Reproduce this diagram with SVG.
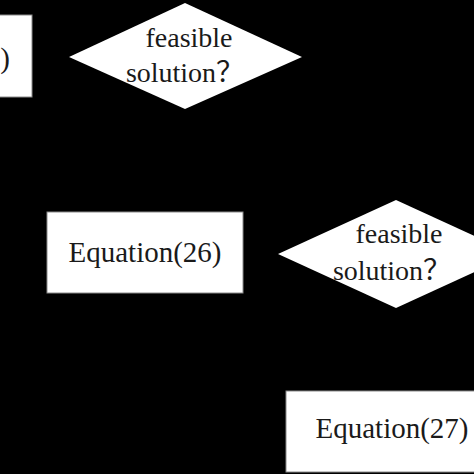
<svg xmlns="http://www.w3.org/2000/svg" width="474" height="474" viewBox="0 0 474 474">
<style>
.box{fill:#fff;stroke:#8a8a8a;stroke-width:1}
.dia{fill:#fff;stroke:none}
.t{font-family:"Liberation Serif","Times New Roman","Noto Sans CJK SC",serif;fill:#1a1a1a;font-size:29px}
.d{font-family:"Liberation Serif","Times New Roman","Noto Sans CJK SC",serif;fill:#1a1a1a;font-size:28px}
</style>
<rect x="0" y="0" width="474" height="474" fill="#000"/>
<g id="connectors"></g>
<g id="eq25">
<rect class="box" x="-200" y="15" width="232" height="82"/>
<text class="t" x="10" y="68" text-anchor="end">)</text>
</g>
<g id="dec1">
<polygon class="dia" points="69,57 185,3 302,57 185,109"/>
<text class="d" x="189" y="47" text-anchor="middle">feasible</text>
<text class="d" x="185" y="82" text-anchor="middle">solution？</text>
</g>
<g id="eq26">
<rect class="box" x="47" y="212" width="196" height="81"/>
<text class="t" x="145" y="262" text-anchor="middle">Equation(26)</text>
</g>
<g id="dec2">
<polygon class="dia" points="278,254 396,200 514,254 396,308"/>
<text class="d" x="399" y="243" text-anchor="middle">feasible</text>
<text class="d" x="392" y="280" text-anchor="middle">solution？</text>
</g>
<g id="eq27">
<rect class="box" x="286" y="391" width="240" height="81"/>
<text class="t" x="392" y="438" text-anchor="middle">Equation(27)</text>
</g>
</svg>
